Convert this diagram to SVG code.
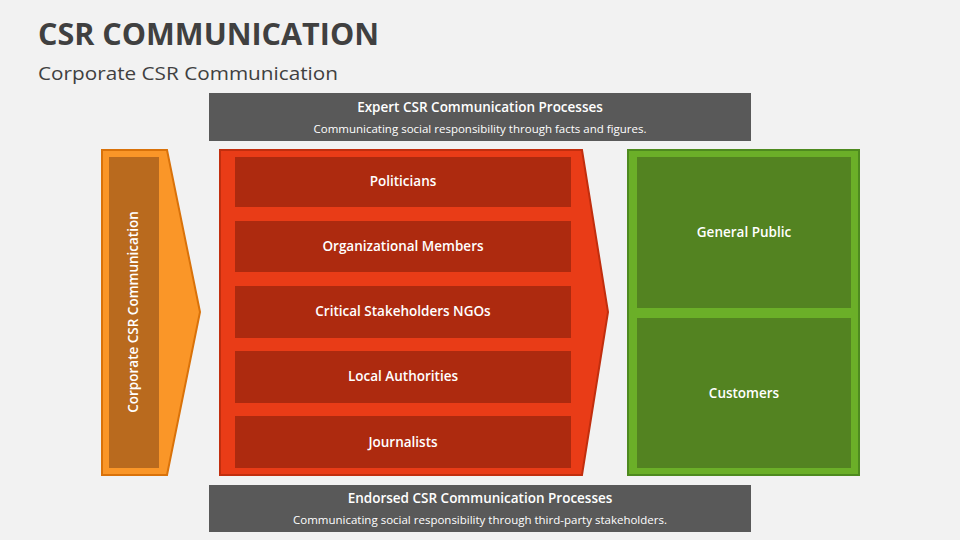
<svg xmlns="http://www.w3.org/2000/svg" width="960" height="540" viewBox="0 0 960 540">
<style>
text{font-family:"Open Sans","Liberation Sans",sans-serif}
.w{fill:#fff;font-size:13.5px;font-weight:600;text-anchor:middle}
.s{fill:#fff;font-size:11.5px;text-anchor:middle}
.row{fill:#AD2A0F}
.g{fill:#538321}
.bar{fill:#595959}
</style>
<rect width="960" height="540" fill="#F2F2F2"/>
<text x="38" y="45" font-size="30" font-weight="bold" fill="#404040" textLength="341" lengthAdjust="spacingAndGlyphs">CSR COMMUNICATION</text>
<text x="38" y="80" font-size="19" fill="#404040" textLength="300" lengthAdjust="spacingAndGlyphs">Corporate CSR Communication</text>
<g id="top-bar"><rect class="bar" x="209" y="93" width="542" height="48"/>
<text class="w" x="480" y="112">Expert CSR Communication Processes</text>
<text class="s" x="480" y="133">Communicating social responsibility through facts and figures.</text></g>
<g id="bottom-bar"><rect class="bar" x="209" y="485" width="542" height="47"/>
<text class="w" x="480" y="503">Endorsed CSR Communication Processes</text>
<text class="s" x="480" y="524">Communicating social responsibility through third-party stakeholders.</text></g>
<g id="corporate"><polygon points="102,150 167,150 200,312 167,475 102,475" fill="#FA9628" stroke="#D9720A" stroke-width="2"/>
<rect x="109" y="157" width="50" height="311" fill="#B96A1E"/>
<text class="w" transform="translate(138,312) rotate(-90)">Corporate CSR Communication</text></g>
<g id="stakeholders"><polygon points="220,150 582,150 608,312 582,475 220,475" fill="#E93C17" stroke="#C12E0E" stroke-width="2"/>
<rect class="row" x="235" y="157" width="336" height="50"/><text class="w" x="403" y="186">Politicians</text>
<rect class="row" x="235" y="221" width="336" height="51"/><text class="w" x="403" y="251">Organizational Members</text>
<rect class="row" x="235" y="286" width="336" height="52"/><text class="w" x="403" y="316">Critical Stakeholders NGOs</text>
<rect class="row" x="235" y="351" width="336" height="52"/><text class="w" x="403" y="381">Local Authorities</text>
<rect class="row" x="235" y="416" width="336" height="52"/><text class="w" x="403" y="447">Journalists</text></g>
<g id="audience"><rect x="628" y="150" width="231" height="325" fill="#6BAF28" stroke="#4E8A1F" stroke-width="2"/>
<rect class="g" x="637" y="157" width="214" height="151"/><text class="w" x="744" y="237">General Public</text>
<rect class="g" x="637" y="318" width="214" height="150"/><text class="w" x="744" y="398">Customers</text></g>
<g id="connectors"/>
</svg>
